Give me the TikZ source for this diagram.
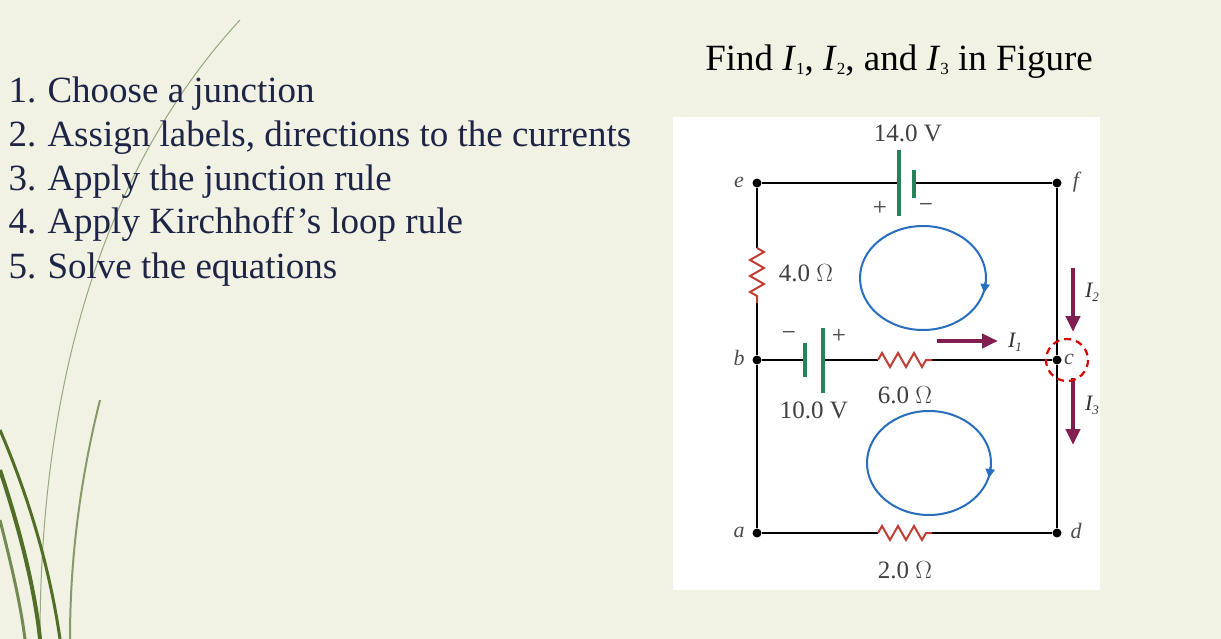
\documentclass[tikz,border=0pt]{standalone}
\usepackage{fontspec}
\setmainfont{Liberation Serif}
\usetikzlibrary{decorations.pathmorphing,arrows.meta}
\definecolor{bgc}{RGB}{241,242,228}
\definecolor{txt}{RGB}{30,36,70}
\definecolor{bat}{RGB}{40,130,90}
\definecolor{res}{RGB}{190,60,50}
\definecolor{cur}{RGB}{130,30,80}
\definecolor{loopc}{RGB}{40,110,190}
\definecolor{deco}{RGB}{80,110,40}
\tikzset{
 wire/.style={line width=1.5pt,black},
 dot/.style={circle,fill=black,inner sep=0pt,minimum size=9pt},
 ptlabel/.style={font=\fontsize{22}{22}\selectfont\itshape,text=black!70},
 vlabel/.style={font=\fontsize{25}{25}\selectfont,text=black!75},
 zig/.style={line width=2pt,res,decorate,decoration={zigzag,segment length=16pt,amplitude=7pt}},
 plate/.style={line width=3.5pt,bat},
 curarrow/.style={line width=4pt,cur,-{Triangle[length=16pt,width=14pt]}},
 loopst/.style={line width=2pt,loopc},
 item/.style={font=\fontsize{37}{37}\selectfont,text=txt,anchor=base west},
 num/.style={font=\fontsize{37}{37}\selectfont,text=txt,anchor=base west}
}
\begin{document}
\begin{tikzpicture}[x=1pt,y=-1pt]
\fill[bgc] (0,0) rectangle (1221,639);
\useasboundingbox (0,0) rectangle (1221,639);
% decorative curves
\draw[deco!60,line width=1pt] (240,20) .. controls (120,150) and (40,350) .. (40,639);
\draw[deco,line width=3pt] (0,430) .. controls (30,500) and (50,570) .. (60,639);
\draw[deco,line width=4pt] (0,470) .. controls (20,530) and (35,590) .. (40,639);
\draw[deco!80,line width=3pt] (0,520) .. controls (10,560) and (20,600) .. (25,639);
\draw[deco!70,line width=2pt] (100,400) .. controls (80,480) and (70,560) .. (70,639);
% text list
\node[num] (n1) at (5,103) {1.}; \node[item] (l1) at (44,103) {Choose a junction};
\node[num] (n2) at (5,147) {2.}; \node[item] (l2) at (44,147) {Assign labels, directions to the currents};
\node[num] (n3) at (5,191) {3.}; \node[item] (l3) at (44,191) {Apply the junction rule};
\node[num] (n4) at (5,234) {4.}; \node[item] (l4) at (44,234) {Apply Kirchhoff’s loop rule};
\node[num] (n5) at (5,279) {5.}; \node[item] (l5) at (44,279) {Solve the equations};
\node[font=\fontsize{37}{37}\selectfont,text=black] (title) at (899,62) {Find \textit{I}\raisebox{-4pt}{\fontsize{17}{17}\selectfont 1}, \textit{I}\raisebox{-4pt}{\fontsize{17}{17}\selectfont 2}, and \textit{I}\raisebox{-4pt}{\fontsize{17}{17}\selectfont 3} in Figure};
% white panel
\fill[white] (673,117) rectangle (1100,590);
% nodes
\node[dot] (e) at (757,183) {};
\node[dot] (f) at (1057,183) {};
\node[dot] (b) at (757,360) {};
\node[dot] (c) at (1057,360) {};
\node[dot] (a) at (757,533) {};
\node[dot] (d) at (1057,533) {};
\node[ptlabel] at (739,182) {e};
\node[ptlabel] at (1076,182) {f};
\node[ptlabel] at (739,358) {b};
\node[ptlabel] at (1069,359) {c};
\node[ptlabel] at (739,532) {a};
\node[ptlabel] at (1076,531) {d};
% coordinates
\coordinate (b14a) at (899,183); \coordinate (b14b) at (914,183);
\coordinate (r4a) at (757,248); \coordinate (r4b) at (757,303);
\coordinate (b10a) at (805,360); \coordinate (b10b) at (823,360);
\coordinate (r6a) at (878,360); \coordinate (r6b) at (932,360);
\coordinate (r2a) at (878,533); \coordinate (r2b) at (932,533);
% wires
\draw[wire] (e) -- (b14a);
\draw[wire] (b14b) -- (f);
\draw[wire] (f) -- (c) -- (d);
\draw[wire] (e) -- (r4a); \draw[wire] (r4b) -- (b);
\draw[wire] (b) -- (a);
\draw[wire] (b) -- (b10a); \draw[wire] (b10b) -- (r6a); \draw[wire] (r6b) -- (c);
\draw[wire] (a) -- (r2a); \draw[wire] (r2b) -- (d);
% resistors
\draw[zig] (r4a) -- (r4b);
\draw[zig] (r6a) -- (r6b);
\draw[zig] (r2a) -- (r2b);
% batteries
\draw[plate] (899,150) -- (899,216);
\draw[plate] (914,170) -- (914,198);
\draw[plate] (805,343) -- (805,377);
\draw[plate] (823,328) -- (823,393);
% labels
\node[vlabel] at (908,133) {14.0 V};
\node[vlabel] at (880,208) {+};
\node[vlabel] at (926,208) {\textminus};
\node[vlabel] at (806,273) {4.0 $\Omega$};
\node[vlabel] at (789,336) {\textminus};
\node[vlabel] at (839,336) {+};
\node[vlabel] at (814,410) {10.0 V};
\node[vlabel] at (905,395) {6.0 $\Omega$};
\node[vlabel] at (905,570) {2.0 $\Omega$};
% currents
\draw[curarrow] (937,341) -- (998,341);
\node[ptlabel,text=black!80] at (1015,342) {I\raisebox{-4pt}{\fontsize{13}{13}\selectfont 1}};
\draw[curarrow] (1073,268) -- (1073,332);
\node[ptlabel,text=black!80] at (1092,292) {I\raisebox{-4pt}{\fontsize{13}{13}\selectfont 2}};
\draw[curarrow] (1073,378) -- (1073,445);
\node[ptlabel,text=black!80] at (1092,405) {I\raisebox{-4pt}{\fontsize{13}{13}\selectfont 3}};
% junction marker
\draw[red!85!black,line width=2.2pt,dash pattern=on 7pt off 5pt] (1067,360) circle (21);
% loops
\draw[loopst] (923,278) ellipse (63 and 52);
\draw[loopc,-{Triangle[length=9pt,width=9pt]},line width=2pt] (985.5,282) -- (984,293);
\draw[loopst] (929,463) ellipse (62 and 52);
\draw[loopc,-{Triangle[length=9pt,width=9pt]},line width=2pt] (990.5,467) -- (989,478);
\end{tikzpicture}
\end{document}
